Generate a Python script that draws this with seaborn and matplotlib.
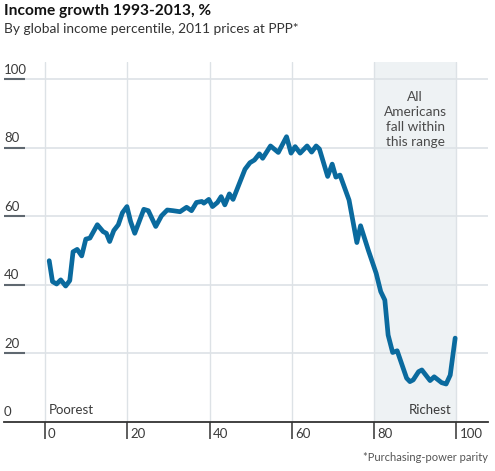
"""Income growth 1993-2013 by global income percentile (elephant curve)."""
import matplotlib
matplotlib.use("Agg")
import matplotlib.pyplot as plt
import matplotlib.transforms as mtransforms
import seaborn as sns

# percentile position of each vertex and growth (%)
PERCENTILE = [1, 1.8, 2.8, 3.8, 5, 6, 6.8, 7.8, 8.9, 9.9, 10.9, 12.7, 14.1, 14.9,
              15.7, 16.7, 17.8, 18.8, 19.9, 20.8, 21.8, 24.0, 25.1, 26.9, 28.3,
              29.7, 31.1, 32.8, 34.4, 35.6, 36.8, 38.1, 38.6, 39.8, 40.7, 41.9,
              42.8, 43.7, 44.8, 45.7, 48.6, 49.8, 50.9, 52.1, 52.9, 54.8, 56.7,
              58.7, 59.8, 60.8, 62.0, 63.7, 64.8, 65.9, 66.7, 68.7, 69.8, 70.7,
              71.7, 73.9, 75.8, 76.7, 78.6, 80.5, 81.6, 82.6, 83.4, 84.5, 85.6,
              87.9, 88.7, 89.5, 90.8, 91.6, 93.6, 94.6, 96.4, 97.5, 98.5, 99.7]
GROWTH = [47.0, 40.9, 40.2, 41.4, 39.6, 41.2, 49.6, 50.3, 48.4, 53.3, 53.6, 57.5,
          55.5, 55.0, 52.6, 55.8, 57.5, 61.0, 62.8, 58.4, 55.0, 62.0, 61.6, 57.0,
          60.1, 61.8, 61.6, 61.3, 62.6, 61.6, 64.0, 64.3, 63.8, 64.9, 62.8, 64.0,
          65.7, 63.3, 66.5, 64.9, 73.7, 75.6, 76.4, 78.2, 76.9, 80.5, 78.6, 83.2,
          78.4, 80.3, 78.4, 80.5, 78.7, 80.5, 79.6, 71.6, 75.2, 71.4, 72.0, 64.7,
          52.3, 57.2, 50.0, 43.3, 38.0, 35.5, 25.3, 20.2, 20.7, 12.7, 11.7, 12.2,
          14.6, 15.1, 12.0, 13.1, 11.4, 11.0, 13.6, 24.4]
X_TICKS = [0, 20, 40, 60, 80, 100]
Y_TICKS = [20, 40, 60, 80, 100]
AMERICANS_RANGE = (80, 100)

LINE = "#0a6a9e"
GRID = "#dde2e6"
SHADE = "#eef2f4"
TEXT = "#3b3b3b"


def main():
    sns.set_style("white")
    plt.rcParams["font.family"] = ["Lato", "DejaVu Sans"]

    fig = plt.figure(figsize=(4.95, 4.71), dpi=100)
    ax = fig.add_axes([0.008, 0.1047, 0.978, 0.7636])

    ax.axvspan(*AMERICANS_RANGE, color=SHADE, lw=0, zorder=0)
    for x in X_TICKS:
        ax.axvline(x, color=GRID, lw=1, zorder=1)
    for y in Y_TICKS:
        ax.axhline(y, color=GRID, lw=1.2, zorder=1)

    sns.lineplot(x=PERCENTILE, y=GROWTH, ax=ax, color=LINE, lw=3.4,
                 estimator=None, sort=False, zorder=3)

    ax.set_xlim(-10, 107.7)
    ax.set_ylim(0, 105)
    sns.despine(ax=ax, left=True, right=True, top=True)
    ax.spines["bottom"].set_color("#333333")
    ax.spines["bottom"].set_linewidth(1.3)

    # x ticks hang below the axis, labels sit to the right of each tick
    ax.set_xticks(X_TICKS)
    ax.set_xticklabels([])
    ax.tick_params(axis="x", bottom=True, direction="out", length=12.5,
                   width=1.1, color="#333333")
    xtrans = mtransforms.blended_transform_factory(ax.transData, ax.transAxes)
    offset = mtransforms.ScaledTranslation(3 / 100, -12.5 / 100, fig.dpi_scale_trans)
    for x in X_TICKS:
        ax.text(x, 0, str(x), transform=xtrans + offset, ha="left",
                va="center", fontsize=9.5, color=TEXT, clip_on=False)

    # y labels sit inside the plot, above their gridlines
    ax.set_yticks([])
    trans = mtransforms.blended_transform_factory(ax.transAxes, ax.transData)
    for y in [0] + Y_TICKS:
        ax.text(0.0, y + 1.0, str(y), transform=trans, ha="left", va="bottom",
                fontsize=9.5, color=TEXT)
        if y:
            ax.plot([0, 0.044], [y, y], transform=trans, color="#5f6870",
                    lw=1.5, zorder=2, solid_capstyle="butt")

    ax.text(90, 96.5, "All\nAmericans\nfall within\nthis range", ha="center",
            va="top", fontsize=9.8, color="#4a4a4a", linespacing=1.28)
    ax.text(1, 1.8, "Poorest", ha="left", va="bottom", fontsize=9.5, color=TEXT)
    ax.text(98.7, 1.8, "Richest", ha="right", va="bottom", fontsize=9.5, color=TEXT)

    fig.text(0.008, 0.977, "Income growth 1993-2013, %", ha="left", va="center",
             fontsize=11.2, fontweight="bold", color="#121212")
    fig.text(0.008, 0.938, "By global income percentile, 2011 prices at PPP*",
             ha="left", va="center", fontsize=9.9, color="#333333")
    fig.text(0.985, 0.028, "*Purchasing-power parity", ha="right", va="center",
             fontsize=8, color="#555555")

    fig.savefig("out.png", dpi=100)


if __name__ == "__main__":
    main()
